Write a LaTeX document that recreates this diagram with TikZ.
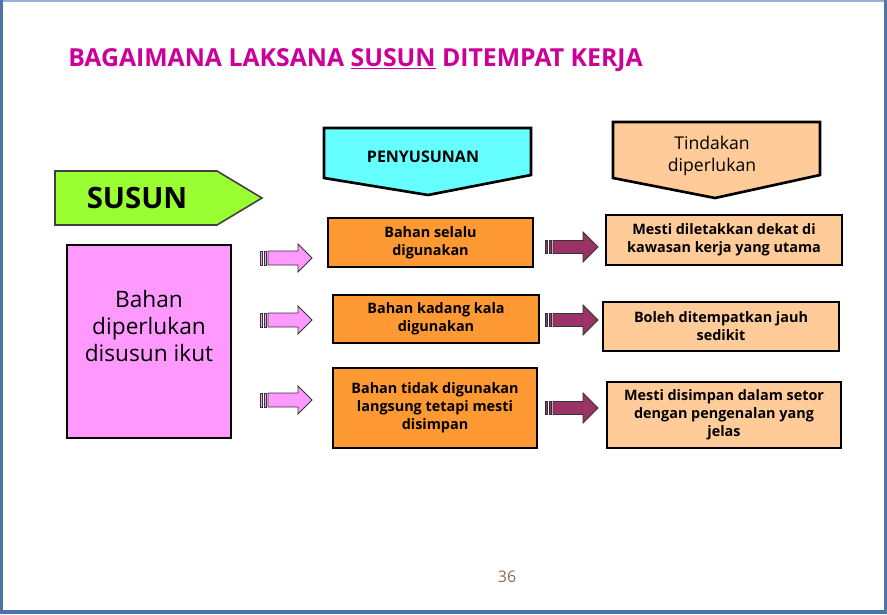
\documentclass[tikz,border=0pt]{standalone}
\usepackage{fontspec}
\setmainfont{Open Sans}
\definecolor{titlemag}{RGB}{204,0,153}
\definecolor{framblue}{RGB}{79,116,170}
\definecolor{framlight}{RGB}{150,178,218}
\definecolor{lime}{RGB}{153,255,51}
\definecolor{pinkfill}{RGB}{255,153,255}
\definecolor{cyanfill}{RGB}{102,255,255}
\definecolor{peach}{RGB}{255,204,153}
\definecolor{orangefill}{RGB}{255,153,51}
\definecolor{plum}{RGB}{153,51,102}
\definecolor{pagebrown}{RGB}{156,106,70}
\begin{document}
\begin{tikzpicture}[x=0.75pt,y=-0.75pt,
  boxsize/.style 2 args={minimum width=#1*0.75pt, minimum height=#2*0.75pt},
  obox/.style={draw=black, line width=2.2pt, fill=orangefill, inner sep=0pt, align=center, font=\fontsize{10.8}{13.5}\selectfont\bfseries},
  pbox/.style={draw=black, line width=2.2pt, fill=peach, inner sep=0pt, align=center, font=\fontsize{10.8}{13.5}\selectfont\bfseries},
  headshape/.style={draw=black, line width=2pt, line join=miter},
  lbl/.style={inner sep=0pt, align=center},
  pics/stripearrow/.style n args={4}{code={
    % #1 fill, #2 shaft half height, #3 head half height, #4 total length
    \filldraw[fill=#1, draw=black!80, line width=0.6pt] (0,-#2) rectangle (2.5,#2);
    \filldraw[fill=#1, draw=black!80, line width=0.6pt] (4,-#2) rectangle (6.5,#2);
    \filldraw[fill=#1, draw=black!80, line width=0.6pt, line join=miter]
      (8,-#2) -- (38,-#2) -- (38,-#3) -- (#4,0) -- (38,#3) -- (38,#2) -- (8,#2) -- cycle;
  }}
]
\useasboundingbox (0,0) rectangle (887,614);
\fill[white] (0,0) rectangle (887,614);
% window frame
\fill[framlight] (0,0) rectangle (887,1.5);
\fill[framblue] (0,0) rectangle (3,614);
\fill[framblue] (883.5,0) rectangle (887,614);
\fill[framblue] (0,610) rectangle (887,614);

% title
\node[lbl, text=titlemag, font=\fontsize{18.6}{22}\selectfont\bfseries, anchor=west] (title) at (68,60)
  {BAGAIMANA LAKSANA \underline{SUSUN} DITEMPAT KERJA};

% SUSUN pentagon
\filldraw[fill=lime, draw=black!75, line width=1.2pt, line join=miter]
  (55,171) -- (217,171) -- (262,198) -- (217,225) -- (55,225) -- cycle;
\node[lbl, font=\fontsize{22}{24}\selectfont\bfseries] (susun) at (137,198) {SUSUN};

% pink box
\node[draw=black, line width=1.5pt, fill=pinkfill, boxsize={164}{193}] (pinkbox) at (149,341.5) {};
\node[lbl, font=\fontsize{17}{20.6}\selectfont] (pinktext) at (149,326) {Bahan\\diperlukan\\disusun ikut};

% pink arrows
\pic at (260,258) {stripearrow={pinkfill}{7}{14}{52}};
\pic at (260,320) {stripearrow={pinkfill}{7}{14}{52}};
\pic at (260,400) {stripearrow={pinkfill}{7}{14}{52}};

% PENYUSUNAN header
\filldraw[headshape, fill=cyanfill] (324,128) -- (531,128) -- (531,175) -- (428,195) -- (324,178) -- cycle;
\node[lbl, font=\fontsize{12}{14}\selectfont\bfseries] (penyusunan) at (423,157) {PENYUSUNAN};

% Tindakan header
\filldraw[headshape, fill=peach] (613,122) -- (820,122) -- (820,175) -- (715,198) -- (613,178) -- cycle;
\node[lbl, font=\fontsize{13.2}{17}\selectfont] (tindakan) at (712,156) {Tindakan\\diperlukan};

% orange boxes
\node[obox, boxsize={205}{49}] (o1) at (430.5,242.5) {Bahan selalu\\digunakan};
\node[obox, boxsize={206}{48}] (o2) at (436,319) {Bahan kadang kala\\digunakan};
\node[obox, boxsize={204}{80}] (o3) at (435,408) {Bahan tidak digunakan\\langsung tetapi mesti\\disimpan};

% purple arrows
\pic at (545,247) {stripearrow={plum}{6.5}{15}{53}};
\pic at (545,320) {stripearrow={plum}{6.5}{15}{53}};
\pic at (545,408) {stripearrow={plum}{6.5}{15}{53}};

% peach boxes
\node[pbox, boxsize={236}{50}] (p1) at (724,240) {Mesti diletakkan dekat di\\kawasan kerja yang utama};
\node[pbox, boxsize={236}{49}] (p2) at (721,326.5) {Boleh ditempatkan jauh\\sedikit};
\node[pbox, boxsize={234}{66}] (p3) at (724,415) {Mesti disimpan dalam setor\\dengan pengenalan yang\\jelas};

% page number
\node[lbl, text=pagebrown, font=\fontsize{12}{14}\selectfont] (pagenum) at (507,577) {36};
\end{tikzpicture}
\end{document}
